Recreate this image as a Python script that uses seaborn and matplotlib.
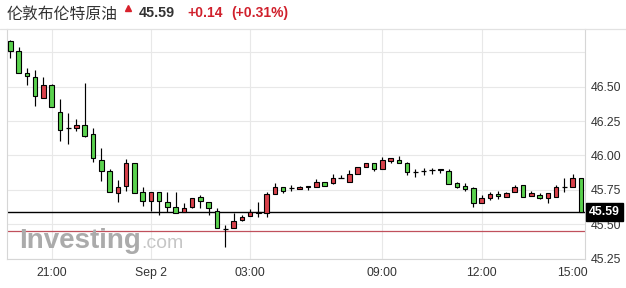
import matplotlib
matplotlib.use("Agg")
import matplotlib.pyplot as plt
import matplotlib.transforms as mtransforms
from matplotlib.lines import Line2D
import seaborn as sns
import numpy as np
import pandas as pd

# ---------------- data ----------------
opens = [46.836, 46.761, 46.601, 46.570, 46.418, 46.514, 46.317, 46.201, 46.201, 46.222,
         46.157, 45.969, 45.884, 45.730, 45.778, 45.942, 45.734, 45.669, 45.737, 45.662,
         45.628, 45.589, 45.628, 45.701, 45.662, 45.596, 45.464, 45.469, 45.531, 45.563,
         45.592, 45.578, 45.722, 45.773, 45.761, 45.759, 45.768, 45.773, 45.809, 45.802,
         45.833, 45.809, 45.867, 45.918, 45.947, 45.904, 45.959, 45.966, 45.947, 45.882,
         45.884, 45.891, 45.891, 45.886, 45.802, 45.778, 45.761, 45.657, 45.688, 45.722,
         45.701, 45.737, 45.785, 45.705, 45.712, 45.688, 45.701, 45.773, 45.770, 45.833]
highs = [46.841, 46.788, 46.633, 46.623, 46.570, 46.520, 46.413, 46.309, 46.266, 46.527,
         46.201, 46.051, 45.904, 45.824, 45.971, 45.947, 45.773, 45.737, 45.737, 45.737,
         45.737, 45.652, 45.693, 45.712, 45.662, 45.621, 45.493, 45.578, 45.565, 45.611,
         45.662, 45.734, 45.802, 45.773, 45.783, 45.780, 45.780, 45.826, 45.809, 45.867,
         45.857, 45.891, 45.918, 45.947, 45.947, 45.991, 45.983, 45.995, 45.950, 45.904,
         45.908, 45.911, 45.904, 45.899, 45.806, 45.797, 45.773, 45.710, 45.734, 45.741,
         45.737, 45.785, 45.785, 45.741, 45.730, 45.725, 45.785, 45.838, 45.867, 45.833]
lows = [46.708, 46.599, 46.514, 46.357, 46.418, 46.353, 46.104, 46.085, 46.176, 46.136,
        45.951, 45.814, 45.737, 45.664, 45.741, 45.730, 45.633, 45.594, 45.567, 45.592,
        45.578, 45.589, 45.621, 45.621, 45.567, 45.469, 45.336, 45.469, 45.524, 45.563,
        45.553, 45.553, 45.722, 45.727, 45.741, 45.755, 45.751, 45.773, 45.780, 45.790,
        45.833, 45.809, 45.867, 45.918, 45.884, 45.904, 45.947, 45.947, 45.855, 45.846,
        45.857, 45.867, 45.875, 45.790, 45.761, 45.741, 45.625, 45.657, 45.676, 45.681,
        45.701, 45.737, 45.701, 45.705, 45.681, 45.657, 45.701, 45.737, 45.770, 45.590]
closes = [46.761, 46.599, 46.578, 46.433, 46.512, 46.353, 46.183, 46.201, 46.225, 46.143,
          45.983, 45.884, 45.737, 45.773, 45.947, 45.730, 45.669, 45.737, 45.669, 45.628,
          45.578, 45.621, 45.693, 45.672, 45.621, 45.469, 45.464, 45.520, 45.549, 45.592,
          45.578, 45.722, 45.773, 45.741, 45.761, 45.773, 45.780, 45.809, 45.780, 45.838,
          45.833, 45.867, 45.918, 45.942, 45.904, 45.964, 45.983, 45.947, 45.882, 45.882,
          45.884, 45.891, 45.904, 45.790, 45.770, 45.754, 45.652, 45.693, 45.717, 45.705,
          45.730, 45.773, 45.701, 45.730, 45.693, 45.725, 45.773, 45.773, 45.838, 45.590]

x_tick_positions = [5, 17, 29, 45, 57, 68]
x_tick_labels = ["21:00", "Sep 2", "03:00", "09:00", "12:00", "15:00"]
y_tick_values = [45.25, 45.50, 45.75, 46.00, 46.25, 46.50]
y_tick_labels = ["45.25", "45.50", "45.75", "46.00", "46.25", "46.50"]
extra_grid_y = [46.75]

instrument = "伦敦布伦特原油"
last_price = 45.59
change_text = "+0.14"
change_pct_text = "(+0.31%)"
prev_close = 45.45

# ---------------- styling ----------------
GREEN = "#5ad24e"
RED = "#d8414b"
GRID = "#e8e8e8"
FRAME = "#d6d6d6"

df = pd.DataFrame({"open": opens, "high": highs, "low": lows, "close": closes})
df["idx"] = np.arange(len(df))

sns.set_theme(style="white")
plt.rcParams["font.family"] = ["Liberation Sans", "Noto Sans CJK SC", "DejaVu Sans"]

W, H = 626, 288
fig = plt.figure(figsize=(W / 100, H / 100), dpi=100)
fig.patch.set_facecolor("white")
ax = fig.add_axes([7 / W, 1 - 259 / H, (585 - 7) / W, (259 - 29) / H])
ax.set_facecolor("white")

# watermark
fig.text(19 / W, 1 - 248 / H, "Investing", fontsize=20, fontweight="bold",
         color="#ababab", va="baseline", ha="left", zorder=0)
fig.text(141 / W, 1 - 248 / H, ".com", fontsize=14, color="#c6c6c6",
         va="baseline", ha="left", zorder=0)

# grid
for yv in y_tick_values + extra_grid_y:
    ax.axhline(yv, color=GRID, lw=0.8, zorder=0)
for xv in x_tick_positions[:-1]:
    ax.axvline(xv, color=GRID, lw=0.8, zorder=0)

# reference lines
ax.axhline(prev_close, color="#c0505c", lw=0.9, zorder=1)
ax.axhline(last_price, color="black", lw=1.0, zorder=1)

# wicks
ax.vlines(df["idx"], df["low"], df["high"], color="black", lw=0.85, zorder=2)

# bodies
doji = df[df["open"] == df["close"]]
body = df[df["open"] != df["close"]]
colors = [GREEN if c < o else RED for o, c in zip(body["open"], body["close"])]
ax.bar(body["idx"], (body["close"] - body["open"]).abs(),
       bottom=np.minimum(body["open"], body["close"]), width=0.55,
       color=colors, edgecolor="black", linewidth=0.8, zorder=3)
ax.hlines(doji["close"], doji["idx"] - 0.32, doji["idx"] + 0.32,
          color="black", lw=0.9, zorder=3)

ax.set_xlim(-0.4, 69.5)
ax.set_ylim(45.247, 46.92)

ax.yaxis.tick_right()
ax.set_yticks(y_tick_values)
ax.set_yticklabels(y_tick_labels)
ax.set_xticks(x_tick_positions)
ax.set_xticklabels(x_tick_labels)
ax.tick_params(axis="y", length=0, pad=4, labelsize=8.8, labelcolor="#333333")
ax.tick_params(axis="x", length=0, pad=5.5, labelsize=8.8, labelcolor="#333333")
ax.grid(False)

for side in ["left", "bottom", "right"]:
    ax.spines[side].set_color(FRAME)
    ax.spines[side].set_linewidth(0.8)
ax.spines["top"].set_visible(False)

# last price box on the right
trans = mtransforms.blended_transform_factory(ax.transAxes, ax.transData)
ax.text(1.0 + 4 / (585 - 7), last_price, f"{last_price:.2f}", transform=trans,
        ha="left", va="center", fontsize=8.8, fontweight="bold", color="white",
        bbox=dict(boxstyle="square,pad=0.25", facecolor="black", edgecolor="black"),
        clip_on=False, zorder=10)

# header
fig.add_artist(Line2D([0, 1], [1 - 29 / H, 1 - 29 / H], transform=fig.transFigure,
                      color="#e2e2e2", lw=0.9))
fig.text(7 / W, 1 - 18.5 / H, instrument, fontsize=11.4, color="#333333",
         family=["Noto Sans CJK SC", "DejaVu Sans"], va="baseline", ha="left")
fig.add_artist(Line2D([128 / W], [1 - 8 / H], transform=fig.transFigure,
                      marker="^", markersize=4.5, color="#d8212c", lw=0))
fig.text(139 / W, 1 - 16.8 / H, f"{last_price:.2f}", fontsize=10.4, fontweight="bold",
         color="#333333", va="baseline", ha="left")
fig.text(187 / W, 1 - 16.8 / H, change_text, fontsize=10, fontweight="bold",
         color="#d0202c", va="baseline", ha="left")
fig.text(231 / W, 1 - 16.8 / H, change_pct_text, fontsize=10, fontweight="bold",
         color="#d0202c", va="baseline", ha="left")

fig.savefig("out.png", dpi=100, facecolor="white")
